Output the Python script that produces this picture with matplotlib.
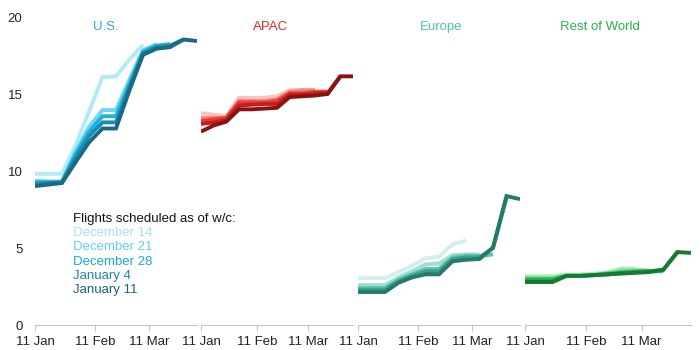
## Weekly scheduled seats by region, one panel per region
import matplotlib
matplotlib.use('Agg')
import matplotlib.pyplot as plt
import pandas as pd

plt.rcParams['font.family'] = ['Liberation Sans', 'DejaVu Sans']

## week commencing dates on the x axis
weeks = pd.date_range('2021-01-11', periods=13, freq='7D')
schedules = ['December 14', 'December 21', 'December 28', 'January 4', 'January 11']
regions = ['U.S.', 'APAC', 'Europe', 'Rest of World']

## one list per schedule snapshot, each one week longer than the last
us = [
    [9.85, 9.85, 9.85, 11.7, 13.9, 16.15, 16.2, 17.3, 18.25],
    [9.4, 9.35, 9.35, 11.3, 12.9, 14.0, 14.0, 16.0, 17.9, 18.3],
    [9.3, 9.3, 9.3, 11.1, 12.6, 13.6, 13.6, 15.7, 17.8, 18.2, 18.3],
    [9.2, 9.25, 9.3, 10.9, 12.3, 13.2, 13.2, 15.5, 17.7, 18.1, 18.2, 18.6],
    [9.05, 9.15, 9.25, 10.6, 11.9, 12.8, 12.8, 15.3, 17.6, 18.0, 18.1, 18.6, 18.5],
]
apac = [
    [13.8, 13.7, 13.6, 14.8, 14.8, 14.8, 14.9, 15.3, 15.3],
    [13.5, 13.5, 13.5, 14.6, 14.6, 14.6, 14.7, 15.2, 15.3, 15.3],
    [13.3, 13.4, 13.5, 14.5, 14.5, 14.5, 14.6, 15.1, 15.1, 15.2, 15.2],
    [13.1, 13.2, 13.35, 14.3, 14.35, 14.4, 14.4, 15.0, 15.0, 15.1, 15.1, 16.2],
    [12.6, 13.0, 13.25, 14.05, 14.05, 14.1, 14.15, 14.85, 14.9, 14.95, 15.05, 16.2, 16.2],
]
europe = [
    [3.05, 3.05, 3.05, 3.45, 3.85, 4.35, 4.45, 5.25, 5.5],
    [2.6, 2.6, 2.6, 3.1, 3.5, 3.95, 4.0, 4.55, 4.6, 4.6],
    [2.4, 2.4, 2.4, 2.95, 3.3, 3.65, 3.65, 4.4, 4.5, 4.5, 4.6],
    [2.3, 2.3, 2.3, 2.85, 3.2, 3.5, 3.5, 4.3, 4.4, 4.4, 5.0, 8.3],
    [2.15, 2.15, 2.15, 2.75, 3.1, 3.3, 3.3, 4.15, 4.25, 4.3, 5.05, 8.4, 8.2],
]
row = [
    [3.2, 3.2, 3.2, 3.3, 3.3, 3.35, 3.45, 3.7, 3.7],
    [3.1, 3.1, 3.1, 3.25, 3.25, 3.3, 3.4, 3.6, 3.6, 3.55],
    [3.0, 3.0, 3.0, 3.2, 3.2, 3.25, 3.35, 3.45, 3.5, 3.5, 3.5],
    [2.9, 2.9, 2.9, 3.2, 3.2, 3.25, 3.3, 3.4, 3.45, 3.5, 3.6, 4.7],
    [2.8, 2.8, 2.8, 3.2, 3.2, 3.25, 3.3, 3.35, 3.4, 3.45, 3.6, 4.75, 4.7],
]
tick_dates = pd.to_datetime(['2021-01-11', '2021-02-11', '2021-03-11'])
tick_labels = ['11 Jan', '11 Feb', '11 Mar']
y_ticks = [0, 5, 10, 15, 20]

## colours: light -> dark per region
palettes = [
    ['#b3eafa', '#6fd4f1', '#1fb2e0', '#1a8cb3', '#186b80'],
    ['#f8c3be', '#f08a82', '#e6403a', '#c61d1d', '#8a1212'],
    ['#d3efe9', '#a3ddd2', '#5ec3b1', '#37a291', '#257a6c'],
    ['#c8f1d1', '#8ee2a2', '#3ec462', '#21a446', '#177a34'],
]
title_colors = ['#2aa7d6', '#e3262a', '#4fc3b1', '#2bb04f']
legend_colors = ['#a3e2f5', '#62cfee', '#1aa8d6', '#1a85a8', '#1e6274']

W, H = 700.0, 350.0
panel_px = [(35, 197), (201, 353), (358, 520), (525, 691)]
title_px = [106, 271, 441, 600]
y0_px, y20_px = 325, 18

fig = plt.figure(figsize=(7, 3.5), dpi=100)

for i, data in enumerate([us, apac, europe, row]):
    x0, x1 = panel_px[i]
    ax = fig.add_axes([x0 / W, (H - y0_px) / H, (x1 - x0) / W, (y0_px - y20_px) / H])
    for j, series in enumerate(data):
        ax.plot(weeks[:len(series)], series, color=palettes[i][j], lw=2.8,
                solid_joinstyle='miter', solid_capstyle='butt')
    ax.set_xlim(pd.Timestamp('2021-01-11'), pd.Timestamp('2021-04-05'))
    ax.set_ylim(0, 20)
    for s in ['top', 'right', 'left']:
        ax.spines[s].set_visible(False)
    ax.spines['bottom'].set_color('#c4c4c4')
    ax.spines['bottom'].set_linewidth(0.8)
    ax.set_xticks(tick_dates)
    ax.set_xticklabels(tick_labels, fontsize=9.5, color='#222222')
    ax.tick_params(axis='x', length=4, color='#c4c4c4', pad=4)
    if i == 0:
        ax.set_yticks(y_ticks)
        ax.set_yticklabels([str(v) for v in y_ticks], fontsize=9.5, color='#222222')
        ax.tick_params(axis='y', length=0, pad=9)
    else:
        ax.set_yticks([])
    cx = (title_px[i] - x0) / (x1 - x0)
    ax.text(cx, (y0_px - 27) / (y0_px - y20_px), regions[i], transform=ax.transAxes,
            ha='center', va='center', fontsize=9.5, color=title_colors[i])
    ax.patch.set_alpha(0)

## legend as coloured text
fig.text(73 / W, 1 - 219 / H, 'Flights scheduled as of w/c:', fontsize=9.5,
         color='#111111', va='center', ha='left')
for j, name in enumerate(schedules):
    ypx = [233, 247, 262, 276, 290][j]
    fig.text(73 / W, 1 - ypx / H, name, fontsize=9.5, color=legend_colors[j],
             va='center', ha='left')

fig.savefig('out.png', dpi=100)
